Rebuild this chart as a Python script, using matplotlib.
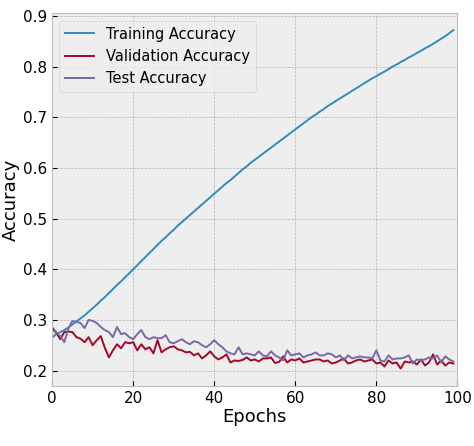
import matplotlib
matplotlib.use("Agg")
import matplotlib.pyplot as plt

plt.style.use("bmh")

train_acc = [
    0.265, 0.272, 0.276, 0.280, 0.285, 0.291, 0.297, 0.303, 0.309, 0.316,
    0.323, 0.330, 0.338, 0.345, 0.353, 0.361, 0.369, 0.376, 0.384, 0.392,
    0.400, 0.408, 0.416, 0.424, 0.432, 0.440, 0.448, 0.456, 0.463, 0.471,
    0.478, 0.486, 0.493, 0.500, 0.507, 0.514, 0.521, 0.528, 0.535, 0.542,
    0.549, 0.556, 0.563, 0.570, 0.576, 0.583, 0.590, 0.597, 0.603, 0.610,
    0.616, 0.622, 0.628, 0.634, 0.640, 0.646, 0.652, 0.658, 0.664, 0.670,
    0.676, 0.682, 0.688, 0.694, 0.700, 0.705, 0.711, 0.716, 0.722, 0.727,
    0.732, 0.737, 0.742, 0.747, 0.752, 0.757, 0.762, 0.767, 0.772, 0.777,
    0.781, 0.786, 0.790, 0.795, 0.800, 0.804, 0.809, 0.813, 0.818, 0.822,
    0.827, 0.831, 0.836, 0.840, 0.845, 0.850, 0.855, 0.860, 0.866, 0.872,
]
val_acc = [
    0.285, 0.275, 0.262, 0.276, 0.277, 0.276, 0.266, 0.263, 0.256, 0.266,
    0.250, 0.260, 0.268, 0.245, 0.226, 0.240, 0.252, 0.244, 0.256, 0.254,
    0.256, 0.240, 0.252, 0.242, 0.246, 0.234, 0.260, 0.236, 0.242, 0.246,
    0.248, 0.242, 0.240, 0.236, 0.237, 0.230, 0.234, 0.224, 0.230, 0.238,
    0.228, 0.222, 0.226, 0.232, 0.216, 0.220, 0.219, 0.221, 0.226, 0.220,
    0.222, 0.218, 0.224, 0.224, 0.226, 0.215, 0.217, 0.228, 0.216, 0.222,
    0.220, 0.224, 0.216, 0.218, 0.220, 0.222, 0.222, 0.218, 0.220, 0.214,
    0.216, 0.220, 0.224, 0.214, 0.216, 0.220, 0.222, 0.218, 0.220, 0.222,
    0.214, 0.216, 0.208, 0.220, 0.214, 0.216, 0.204, 0.218, 0.216, 0.218,
    0.212, 0.222, 0.210, 0.216, 0.232, 0.212, 0.220, 0.210, 0.216, 0.214,
]
test_acc = [
    0.280, 0.276, 0.268, 0.256, 0.283, 0.298, 0.296, 0.294, 0.284, 0.300,
    0.298, 0.294, 0.286, 0.280, 0.276, 0.266, 0.286, 0.272, 0.274, 0.266,
    0.262, 0.272, 0.280, 0.266, 0.262, 0.266, 0.264, 0.264, 0.270, 0.256,
    0.254, 0.258, 0.262, 0.256, 0.252, 0.258, 0.256, 0.250, 0.246, 0.252,
    0.260, 0.252, 0.246, 0.238, 0.234, 0.232, 0.246, 0.232, 0.234, 0.232,
    0.230, 0.238, 0.230, 0.228, 0.238, 0.230, 0.226, 0.220, 0.240, 0.230,
    0.232, 0.234, 0.226, 0.230, 0.232, 0.236, 0.230, 0.230, 0.234, 0.232,
    0.226, 0.230, 0.220, 0.230, 0.224, 0.226, 0.228, 0.226, 0.226, 0.224,
    0.240, 0.220, 0.218, 0.230, 0.222, 0.224, 0.224, 0.226, 0.230, 0.214,
    0.222, 0.220, 0.222, 0.226, 0.224, 0.230, 0.216, 0.228, 0.222, 0.218,
]
epochs = list(range(len(train_acc)))

fig, ax = plt.subplots(figsize=(4.74, 4.46), dpi=100)
ax.plot(epochs, train_acc, label="Training Accuracy", lw=1.4)
ax.plot(epochs, val_acc, label="Validation Accuracy", lw=1.4)
ax.plot(epochs, test_acc, label="Test Accuracy", lw=1.4)
ax.set_xlim(0, 100)
ax.set_ylim(0.17, 0.905)
ax.set_xlabel("Epochs", fontsize=13, labelpad=2)
ax.set_ylabel("Accuracy", fontsize=13, labelpad=2)
ax.tick_params(labelsize=11)
ax.legend(loc="upper left", fontsize=10.5)

fig.subplots_adjust(left=0.11, right=0.965, top=0.97, bottom=0.135)
plt.savefig("out.png", dpi=100)
